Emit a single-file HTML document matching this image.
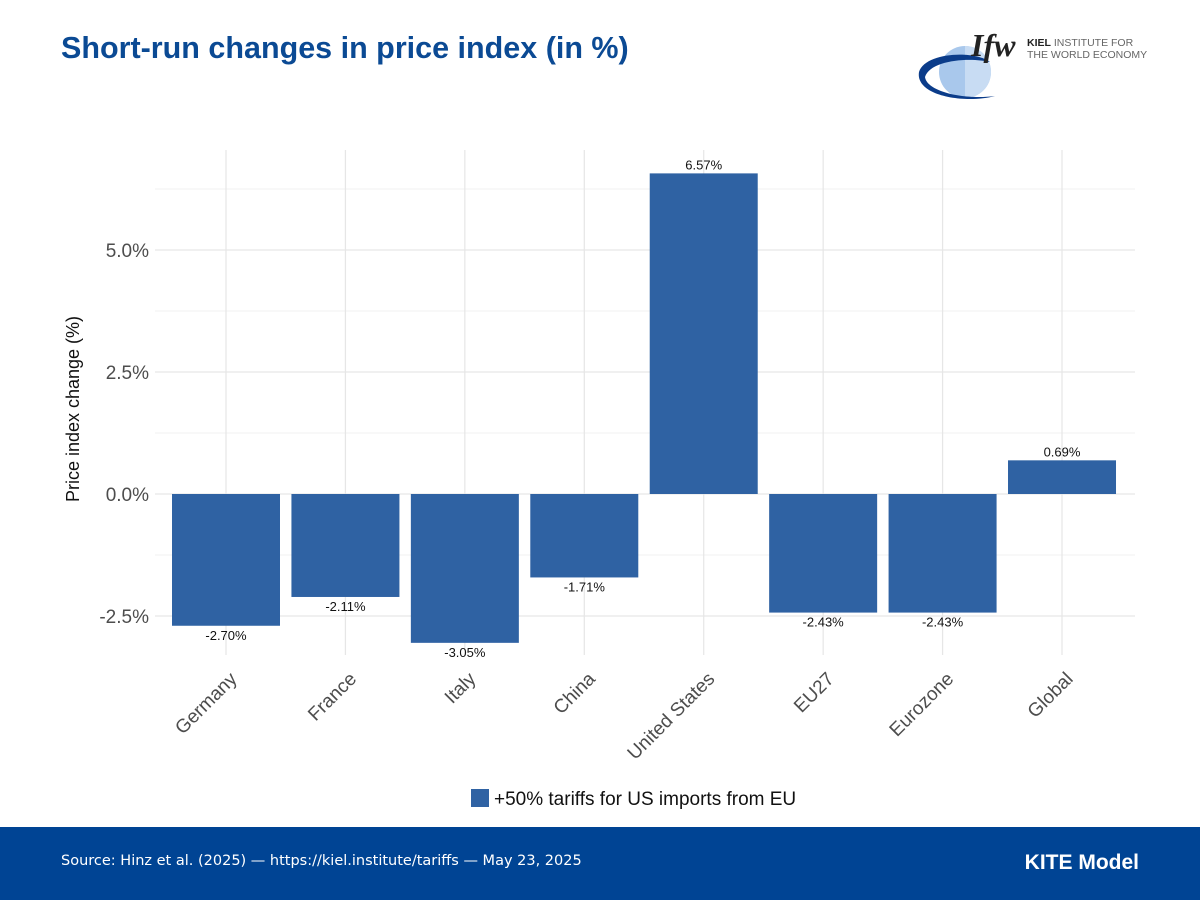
<!DOCTYPE html>
<html><head><meta charset="utf-8"><style>
body{margin:0;width:1200px;height:900px;background:#fff;font-family:"Liberation Sans",sans-serif;overflow:hidden;position:relative}
.title{position:absolute;left:61px;top:31px;font-size:30.5px;font-weight:bold;color:#0b4a94}
.footer{position:absolute;left:0;top:827px;width:1200px;height:73px;background:#004494;color:#fff}
</style></head><body>
<div class="title">Short-run changes in price index (in %)</div>
<svg style="position:absolute;left:915px;top:22px" width="240" height="90">
<circle cx="50" cy="50" r="26" fill="#a9c8ec"/>
<path d="M50 24 A26 26 0 0 1 50 76 Z" fill="#c8dcf3"/>
<path d="M4 50 C10 30 60 28 75 40 C55 35 15 38 10 55 C12 70 50 78 80 74 C50 82 0 74 4 50Z" fill="#0b3c8a"/>
<text x="56" y="34" font-size="32" font-weight="bold" font-style="italic" fill="#222" font-family="Liberation Serif,serif">Ifw</text>
<text x="112" y="24" font-size="10.5" fill="#666"><tspan font-weight="bold" fill="#222">KIEL</tspan> INSTITUTE FOR</text>
<text x="112" y="36" font-size="10.5" fill="#666">THE WORLD ECONOMY</text>
</svg>
<svg id="chart" width="1200" height="827" style="position:absolute;left:0;top:0"></svg>
<div class="footer">
<div style="position:absolute;left:61px;top:26px;font-size:14.5px;font-family:'DejaVu Sans',sans-serif">Source: Hinz et al. (2025) — https://kiel.institute/tariffs — May 23, 2025</div>
<div style="position:absolute;right:61px;top:24px;font-size:21px;font-weight:bold">KITE Model</div>
</div>
<script>
const categories=["Germany","France","Italy","China","United States","EU27","Eurozone","Global"];
const values=[-2.70,-2.11,-3.05,-1.71,6.57,-2.43,-2.43,0.69];
const labels=["-2.70%","-2.11%","-3.05%","-1.71%","6.57%","-2.43%","-2.43%","0.69%"];
const majorTicks=[-2.5,0,2.5,5];
const tickLabels=["-2.5%","0.0%","2.5%","5.0%"];
const minorTicks=[-1.25,1.25,3.75,6.25];
const NS="http://www.w3.org/2000/svg";
const svg=document.getElementById('chart');
const L=155,R=1135,T=150,B=655;
const y=v=>494-v*48.8;
const step=119.43;
const x=i=>226+step*i;
const bw=108;
function mk(t,a,p){const e=document.createElementNS(NS,t);for(const k in a)e.setAttribute(k,a[k]);(p||svg).appendChild(e);return e;}
minorTicks.forEach(v=>{const l=mk('line',{x1:L,x2:R,y1:y(v),y2:y(v),stroke:'#f0f0f0','stroke-width':1});

});
majorTicks.forEach((v,i)=>{const l=mk('line',{x1:L,x2:R,y1:y(v),y2:y(v),stroke:'#e6e6e6','stroke-width':1.2});


const t=mk('text',{x:149,y:y(v)+7,'text-anchor':'end','font-size':19,fill:'#4d4d4d'});t.textContent=tickLabels[i];

});
categories.forEach((c,i)=>{const l=mk('line',{x1:x(i),x2:x(i),y1:T,y2:B,stroke:'#e6e6e6','stroke-width':1.2});

});
categories.forEach((c,i)=>{const v=values[i];
const r=mk('rect',{x:x(i)-bw/2,y:Math.min(y(v),y(0)),width:bw,height:Math.abs(y(v)-y(0)),fill:'#2f62a3'});


const t=mk('text',{x:x(i),y:v>=0?y(v)-4:y(v)+14,'text-anchor':'middle','font-size':13,fill:'#111'});t.textContent=labels[i];


const xl=mk('text',{x:x(i)+12,y:680,'text-anchor':'end','font-size':19,fill:'#4d4d4d',transform:`rotate(-45 ${x(i)+12} 680)`});xl.textContent=c;

});
const yt=mk('text',{x:79,y:409,'text-anchor':'middle','font-size':18,fill:'#111',transform:'rotate(-90 79 409)'});yt.textContent='Price index change (%)';


const lg=mk('rect',{x:471,y:789,width:18,height:18,fill:'#2f62a3'});


const lt=mk('text',{x:494,y:805,'font-size':19,fill:'#111'});lt.textContent='+50% tariffs for US imports from EU';


</script>
</body></html>
